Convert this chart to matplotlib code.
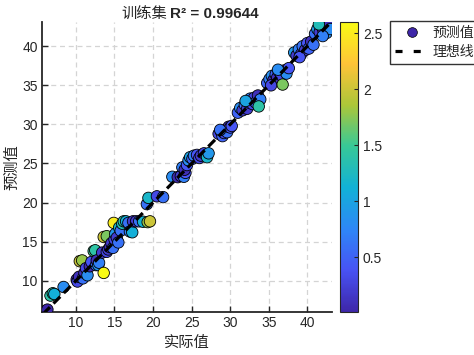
import numpy as np
import matplotlib
matplotlib.use("Agg")
import matplotlib.pyplot as plt
from matplotlib.colors import LinearSegmentedColormap
from matplotlib.lines import Line2D

plt.rcParams['font.family'] = ['Liberation Sans', 'Noto Sans CJK SC', 'DejaVu Sans']

# actual (x) and predicted (y) values of the training set
actual = [5.75, 6.0, 6.3, 6.7, 7.0, 7.2, 8.4,
          10.1, 10.2, 10.4, 10.5, 10.8, 10.9, 11.1, 11.3, 11.5, 11.8, 12.0, 12.3, 12.5,
          12.6, 12.7, 12.9, 13.0, 13.4, 13.6, 13.6, 14.0, 14.0, 14.2, 14.4, 14.6, 14.8,
          14.9, 15.0, 15.1, 15.3, 15.5, 15.6, 15.8,
          16.0, 16.2, 16.5, 16.8, 17.0, 17.3, 17.4, 17.8, 18.2, 18.7, 19.3, 19.6, 19.2,
          19.4, 20.5, 21.3,
          22.5, 23.2, 23.6, 24.0, 24.2, 23.8, 24.1, 24.4, 24.6, 24.8, 25.1, 25.3, 25.7,
          26.0, 26.2, 26.6, 27.0, 27.2,
          28.5, 28.8, 29.0, 29.2, 29.4, 29.6, 29.8, 30.0, 28.7, 30.2,
          31.0, 31.3, 31.6, 31.9, 32.2, 32.4, 32.6, 32.9, 33.1, 33.3, 33.6, 33.9, 32.0, 33.7,
          34.8, 35.1, 35.4, 35.6, 35.9, 36.1, 36.3, 36.6, 36.8, 37.0, 37.3, 37.6, 36.2, 35.3,
          38.3, 38.6, 38.9, 39.2, 39.4, 39.7, 40.0, 40.2, 40.5, 40.8, 39.0,
          41.0, 41.3, 41.6, 41.9, 42.1, 42.3, 42.5, 42.7, 42.9, 43.0, 41.5, 42.0]
predicted = [5.8, 6.1, 6.31, 8.1, 8.4, 8.3, 9.2,
             10.15, 9.9, 10.5, 12.5, 12.6, 10.3, 11.0, 11.6, 10.7, 11.85, 12.4, 13.8, 13.9,
             12.0, 12.6, 12.0, 12.3, 13.6, 11.0, 15.6, 15.7, 13.7, 14.0, 14.3, 14.8, 14.2,
             17.4, 15.3, 16.0, 15.5, 14.9, 16.8, 16.4,
             17.3, 17.6, 17.6, 17.4, 16.3, 16.2, 17.6, 17.6, 17.6, 17.55, 17.5, 17.6, 19.8,
             20.6, 20.8, 20.7,
             23.3, 23.25, 23.4, 23.3, 23.8, 24.5, 24.2, 24.8, 25.4, 25.8, 25.6, 26.0, 26.1,
             25.7, 26.0, 26.3, 25.8, 26.3,
             28.8, 29.1, 28.5, 28.9, 29.3, 29.0, 29.7, 29.6, 29.3, 29.8,
             31.5, 32.1, 31.8, 32.5, 32.0, 32.8, 33.3, 32.6, 33.4, 32.8, 33.7, 33.2, 33.0, 32.3,
             35.3, 35.8, 36.2, 35.65, 36.4, 36.0, 36.8, 36.3, 35.1, 36.9, 36.5, 37.2, 37.0, 35.0,
             39.2, 38.8, 39.6, 39.0, 40.0, 39.5, 40.4, 39.7, 40.6, 40.2, 38.6,
             41.6, 42.2, 41.8, 42.5, 42.0, 42.6, 41.7, 42.3, 42.8, 42.2, 42.8, 41.3]
r2_text = "0.99644"

actual = np.array(actual)
predicted = np.array(predicted)
err = np.abs(predicted - actual)

# MATLAB parula approximation
parula_colors = [(0.2422, 0.1504, 0.6603), (0.2810, 0.3228, 0.9579),
                 (0.1786, 0.5289, 0.9682), (0.0689, 0.6948, 0.8394),
                 (0.2161, 0.7843, 0.5923), (0.6720, 0.7793, 0.2227),
                 (0.9970, 0.7659, 0.2199), (0.9769, 0.9839, 0.0805)]
parula = LinearSegmentedColormap.from_list('parula', parula_colors)

dark = '#262626'
fig = plt.figure(figsize=(4.74, 3.55), dpi=100)
ax = fig.add_axes([0.0886, 0.1211, 0.6118, 0.8169])
cax = fig.add_axes([0.7173, 0.1211, 0.038, 0.8169])

sc = ax.scatter(actual, predicted, c=err, cmap=parula, s=68,
                edgecolors='black', linewidths=0.6, zorder=3)
lo = min(actual.min(), predicted.min())
hi = max(actual.max(), predicted.max())
ax.plot([lo, hi], [lo, hi], color='black', linestyle=(0, (3, 1.6)), linewidth=2.3, zorder=4)

ax.set_xlim(5.6, 43.2)
ax.set_ylim(6.0, 43.1)
ax.set_xticks([10, 15, 20, 25, 30, 35, 40])
ax.set_yticks([10, 15, 20, 25, 30, 35, 40])
ax.grid(True, linestyle=(0, (4, 3)), color='#d4d4d4', linewidth=0.9)
ax.set_axisbelow(True)
for side in ['top', 'right']:
    ax.spines[side].set_visible(False)
for side in ['left', 'bottom']:
    ax.spines[side].set_color(dark)
    ax.spines[side].set_linewidth(1.3)
ax.tick_params(direction='in', length=4, width=1, colors=dark, labelsize=10, pad=3)
ax.set_xlabel('实际值', fontsize=11, color=dark, labelpad=4)
ax.set_ylabel('预测值', fontsize=11, color=dark, labelpad=2)

cb = fig.colorbar(sc, cax=cax)
cb.set_ticks([0.5, 1, 1.5, 2, 2.5])
cb.set_ticklabels(['0.5', '1', '1.5', '2', '2.5'])
cb.outline.set_edgecolor(dark)
cb.outline.set_linewidth(0.8)
cax.tick_params(direction='in', length=3, colors=dark, labelsize=10)

fig.text(0.352, 0.96, '训练集', ha='right', va='center', fontsize=11, color=dark,
         family=['Noto Sans CJK SC'])
fig.text(0.358, 0.96, 'R² = ' + r2_text, ha='left', va='center', fontsize=11,
         fontweight='bold', color=dark)

handles = [Line2D([], [], marker='o', linestyle='none', markersize=7,
                  markerfacecolor=parula_colors[0], markeredgecolor='black', markeredgewidth=0.5),
           Line2D([], [], color='black', linestyle=(0, (2.2, 3.5)), linewidth=2.3)]
leg = fig.legend(handles, ['预测值', '理想线'], loc='upper left',
                 bbox_to_anchor=(0.823, 0.94), fontsize=10, frameon=True,
                 fancybox=False, edgecolor='black', borderpad=0.35,
                 handlelength=2.4, handletextpad=0.3, labelspacing=0.35, borderaxespad=0)
leg.get_frame().set_linewidth(1.0)
for t in leg.get_texts():
    t.set_color(dark)

fig.savefig('out.png', dpi=100)
